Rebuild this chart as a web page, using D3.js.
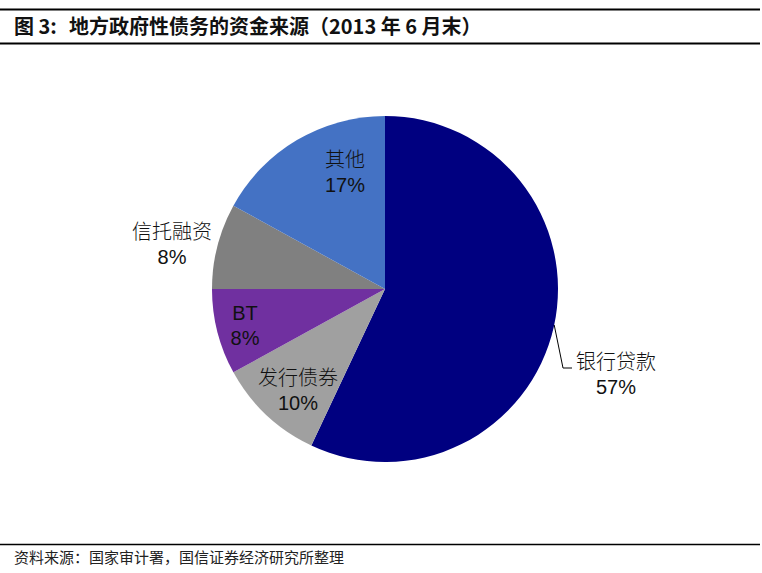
<!DOCTYPE html>
<html><head><meta charset="utf-8">
<script src="https://cdn.jsdelivr.net/npm/d3@7"></script>
<style>body{margin:0;background:#fff}svg{display:block}</style>
</head><body>
<script>
const categories = ["银行贷款", "发行债券", "BT", "信托融资", "其他"];
const values = [57, 10, 8, 8, 17];
const pctLabels = ["57%", "10%", "8%", "8%", "17%"];
const colors = ["#000080", "#a0a0a0", "#7030a0", "#808080", "#4472c4"];

const W = 762, H = 573;
const svg = d3.select("body").append("svg").attr("width", W).attr("height", H);

// rules
[[9.5, 2], [43.5, 2], [544.5, 1.5]].forEach(([y, w]) => {
  svg.append("line").attr("x1", 0).attr("x2", 760).attr("y1", y).attr("y2", y)
    .attr("stroke", "#000").attr("stroke-width", w);
});

const title = svg.append("text").attr("y", 34)
  .attr("font-family", "'Noto Sans CJK SC', 'Liberation Sans', sans-serif")
  .attr("font-weight", "bold").attr("font-size", 20).attr("fill", "#111");
title.append("tspan").attr("x", 14).text("图 3:");
title.append("tspan").attr("x", 69).text("地方政府性债务的资金来源（2013 年 6 月末）");

svg.append("text").attr("x", 14).attr("y", 563)
  .attr("font-family", "'Noto Sans CJK SC', sans-serif")
  .attr("font-size", 15).attr("fill", "#222")
  .text("资料来源：国家审计署，国信证券经济研究所整理");

const cx = 385, cy = 289, R = 173;
const pie = d3.pie().sort(null).value(d => d)(values);
const arc = d3.arc().innerRadius(0).outerRadius(R);
const g = svg.append("g").attr("transform", `translate(${cx},${cy})`);
g.selectAll("path").data(pie).join("path")
  .attr("d", arc).attr("fill", (d, i) => colors[i]);

// leader line for 银行贷款
const a0 = Math.asin((325 - cy) / R);
const ex = cx + R * Math.cos(a0), ey = 325;
svg.append("path").attr("d", `M${ex},${ey}L563,368L572,368`)
  .attr("fill", "none").attr("stroke", "#000").attr("stroke-width", 1);

// label layout (centers of label blocks)
const labelPos = [[616, 361], [298, 377], [245, 312], [172, 231], [345, 159]];
const labelG = svg.append("g");
pie.forEach((d, i) => {
  const [x, y] = labelPos[i];
  const t = labelG.append("text").attr("text-anchor", "middle").attr("fill", "#111");
  t.append("tspan").attr("x", x).attr("y", y + 8)
    .attr("font-family", categories[i] === "BT" ? "'Liberation Sans', Arial, sans-serif" : "'Noto Sans CJK SC', sans-serif")
    .attr("font-weight", categories[i] === "BT" ? "normal" : 300)
    .attr("font-size", 20).text(categories[i]);
  t.append("tspan").attr("x", x).attr("y", y + 33)
    .attr("font-family", "'Liberation Sans', Arial, sans-serif")
    .attr("font-size", 20).text(pctLabels[i]);
});
</script>
</body></html>
